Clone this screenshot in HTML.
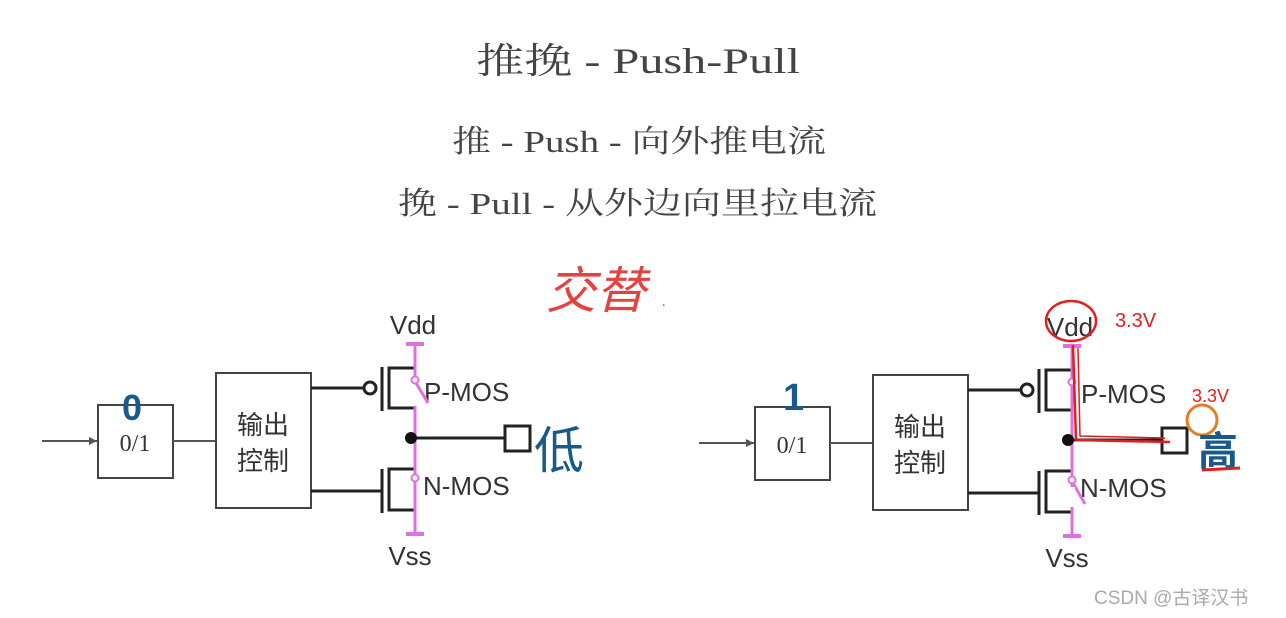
<!DOCTYPE html>
<html><head><meta charset="utf-8"><style>
html,body{margin:0;padding:0;background:#fff;}
svg{display:block;}
.t{font-family:"Liberation Serif","Noto Serif CJK SC",serif;fill:#444;}
.s{font-family:"Liberation Sans","Noto Sans CJK SC",sans-serif;fill:#333;}
.hw{font-family:"Liberation Sans","Noto Sans CJK SC",sans-serif;}
</style></head><body>
<svg width="1286" height="618" viewBox="0 0 1286 618" xmlns="http://www.w3.org/2000/svg">
<text class="t" x="476" y="73" font-size="36" textLength="324" lengthAdjust="spacingAndGlyphs">推挽 - Push-Pull</text>
<text class="t" x="452" y="152" font-size="31" textLength="374" lengthAdjust="spacingAndGlyphs">推 - Push - 向外推电流</text>
<text class="t" x="398" y="214" font-size="31" textLength="479" lengthAdjust="spacingAndGlyphs">挽 - Pull - 从外边向里拉电流</text>

<text class="hw" x="546" y="308" font-size="50" fill="#e02020" font-style="italic" opacity="0.85">交替</text>
<text x="662" y="306" font-size="14" fill="#e02020">.</text>

<defs>
<g id="ckt">
  <line x1="42" y1="441" x2="97" y2="441" stroke="#555" stroke-width="2"/>
  <polygon points="97,441 89,437 89,445" fill="#555"/>
  <rect x="98" y="405" width="75" height="73" fill="none" stroke="#444" stroke-width="2"/>
  <text x="135" y="451" font-size="24" text-anchor="middle" font-family="Liberation Serif,serif" fill="#333">0/1</text>
  <line x1="173" y1="441" x2="216" y2="441" stroke="#555" stroke-width="2"/>
  <rect x="216" y="373" width="95" height="135" fill="none" stroke="#444" stroke-width="2"/>
  <text class="s" x="263" y="434" font-size="26" text-anchor="middle">输出</text>
  <text class="s" x="263" y="470" font-size="26" text-anchor="middle">控制</text>
  <line x1="311" y1="388" x2="364" y2="388" stroke="#222" stroke-width="3"/>
  <circle cx="370" cy="388" r="6" fill="#fff" stroke="#222" stroke-width="3"/>
  <line x1="382" y1="367" x2="382" y2="411" stroke="#222" stroke-width="3"/>
  <polyline points="415,368 389,368 389,408 415,408" fill="none" stroke="#222" stroke-width="3"/>
  <line x1="311" y1="491" x2="382" y2="491" stroke="#222" stroke-width="3"/>
  <line x1="382" y1="469" x2="382" y2="513" stroke="#222" stroke-width="3"/>
  <polyline points="415,469 389,469 389,510 415,510" fill="none" stroke="#222" stroke-width="3"/>
  <line x1="415" y1="438" x2="505" y2="438" stroke="#222" stroke-width="3"/>
  <rect x="505" y="426" width="25" height="25" fill="#fff" stroke="#222" stroke-width="3"/>
  <line x1="406" y1="344" x2="424" y2="344" stroke="#e070e0" stroke-width="4"/>
  <line x1="406" y1="534" x2="424" y2="534" stroke="#e070e0" stroke-width="4"/>
  <text class="s" x="413" y="334" font-size="26" text-anchor="middle">Vdd</text>
  <text class="s" x="410" y="565" font-size="26" text-anchor="middle">Vss</text>
  <text class="s" x="424" y="401" font-size="26">P-MOS</text>
  <text class="s" x="423" y="495" font-size="26">N-MOS</text>
</g>
</defs>

<use href="#ckt"/>
<line x1="415" y1="344" x2="415" y2="377" stroke="#e070e0" stroke-width="3"/>
<circle cx="415" cy="380" r="3.5" fill="#fff" stroke="#e070e0" stroke-width="2"/>
<line x1="416" y1="383" x2="428" y2="403" stroke="#e070e0" stroke-width="3"/>
<line x1="415" y1="406" x2="415" y2="534" stroke="#e070e0" stroke-width="3"/>
<circle cx="415" cy="478" r="3.5" fill="#fff" stroke="#e070e0" stroke-width="2"/>
<circle cx="411" cy="438" r="6" fill="#111"/>
<text class="hw" x="122" y="420" font-size="36" fill="#1a5a8a" font-weight="bold">0</text>
<text class="hw" x="534" y="468" font-size="50" fill="#1a5a8a">低</text>

<g transform="translate(657,2)">
<use href="#ckt"/>
<line x1="415" y1="344" x2="415" y2="534" stroke="#e070e0" stroke-width="3"/>
<circle cx="415" cy="380" r="3.5" fill="#fff" stroke="#e070e0" stroke-width="2"/>
<circle cx="415" cy="478" r="3.5" fill="#fff" stroke="#e070e0" stroke-width="2"/>
<line x1="416" y1="481" x2="428" y2="502" stroke="#e070e0" stroke-width="3"/>
<rect x="413" y="485" width="5" height="20" fill="#fff"/>
<circle cx="411" cy="438" r="6" fill="#111"/>
</g>
<polyline points="1073,345 1076,440 1170,442" fill="none" stroke="#e02020" stroke-width="2.5"/>
<polyline points="1078,348 1080,436 1165,438" fill="none" stroke="#e02020" stroke-width="1.5"/>
<ellipse cx="1071" cy="321" rx="25" ry="20" fill="none" stroke="#e02020" stroke-width="2.5"/>
<text x="1115" y="327" font-size="20" fill="#e02020" font-family="Liberation Sans,sans-serif">3.3V</text>
<text x="1192" y="402" font-size="18" fill="#e02020" font-family="Liberation Sans,sans-serif">3.3V</text>
<circle cx="1202" cy="420" r="15" fill="none" stroke="#e0802a" stroke-width="3"/>
<text class="hw" x="1198" y="465" font-size="40" fill="#1a5a8a" font-weight="bold">高</text>
<line x1="1202" y1="470" x2="1240" y2="468" stroke="#e02020" stroke-width="3"/>
<text class="hw" x="783" y="410" font-size="38" fill="#1a5a8a" font-weight="bold">1</text>

<text x="1094" y="604" font-size="19" fill="#aaa" font-family="Liberation Sans,'Noto Sans CJK SC',sans-serif">CSDN @古译汉书</text>
</svg>
</body></html>
